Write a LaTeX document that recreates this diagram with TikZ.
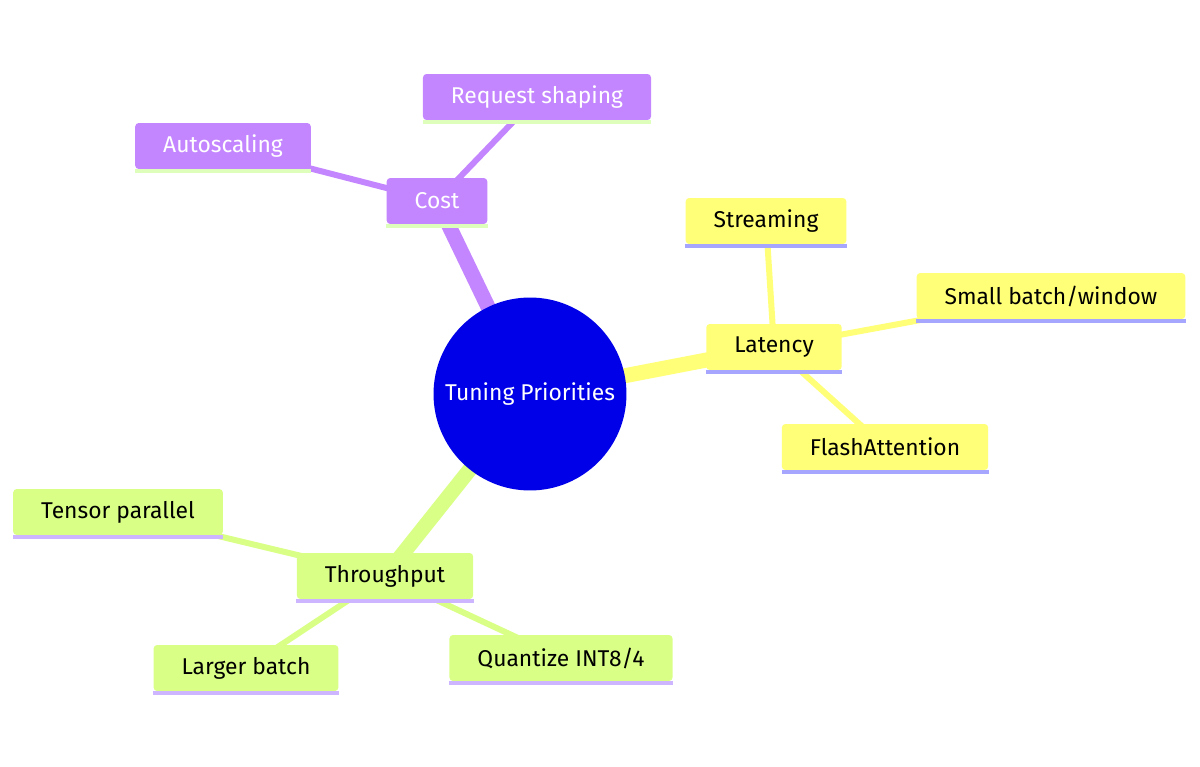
\documentclass[tikz,border=0pt]{standalone}
\usepackage{fontspec}
\setmainfont{Fira Sans}
\usetikzlibrary{backgrounds}
\definecolor{rootblue}{HTML}{0000E8}
\definecolor{costfill}{HTML}{C486FF}
\definecolor{latfill}{HTML}{FFFF78}
\definecolor{thrfill}{HTML}{D9FF86}
\definecolor{costbar}{HTML}{DDFFBB}
\definecolor{latbar}{HTML}{A6A6FF}
\definecolor{thrbar}{HTML}{CDB6FF}

\begin{document}
\begin{tikzpicture}[x=0.02cm,y=-0.02cm,font=\fontsize{13}{15}\selectfont]
            \tikzstyle{root node}=[circle,fill=rootblue,text=white,minimum size=3.86cm,inner sep=0]
            \tikzstyle{box}=[rounded corners=2pt,inner xsep=0.56cm,inner ysep=0,minimum height=0.92cm]
            \tikzstyle{cost node}=[box,fill=costfill,text=white]
            \tikzstyle{lat node}=[box,fill=latfill]
            \tikzstyle{thr node}=[box,fill=thrfill]
            \tikzstyle{trunk}=[line width=0.3cm]
            \tikzstyle{twig}=[line width=0.12cm]
            \useasboundingbox (0,0) rectangle (1200,767);
            \node[root node](tp) at (530,394) {Tuning Priorities};
            % cost branch
            \node[cost node](cost) at (437,201) {Cost};
            \node[cost node](auto) at (223,146) {Autoscaling};
            \node[cost node](shape) at (537,97) {Request shaping};
            % latency branch
            \node[lat node](lat) at (774,347) {Latency};
            \node[lat node](stream) at (766,221) {Streaming};
            \node[lat node](small) at (1051,296) {Small batch/window};
            \node[lat node](flash) at (885,447) {FlashAttention};
            % throughput branch
            \node[thr node](thr) at (385,576) {Throughput};
            \node[thr node](tensor) at (118,512) {Tensor parallel};
            \node[thr node](large) at (246,668) {Larger batch};
            \node[thr node](quant) at (561,658) {Quantize INT8/4};
            \begin{pgfonlayer}{background}
              \draw[trunk,costfill] (tp.center) -- (cost.center);
              \draw[trunk,latfill] (tp.center) -- (lat.center);
              \draw[trunk,thrfill] (tp.center) -- (thr.center);
              \foreach \a/\b in {auto/cost,shape/cost}
                \draw[twig,costfill] (\a.center) -- (\b.center);
              \foreach \a/\b in {stream/lat,small/lat,flash/lat}
                \draw[twig,latfill] (\a.center) -- (\b.center);
              \foreach \a/\b in {tensor/thr,large/thr,quant/thr}
                \draw[twig,thrfill] (\a.center) -- (\b.center);
            \end{pgfonlayer}
            % bars under the boxes
            \foreach \n/\c in {cost/costbar,auto/costbar,shape/costbar,lat/latbar,stream/latbar,small/latbar,flash/latbar,thr/thrbar,tensor/thrbar,large/thrbar,quant/thrbar}
              \fill[\c] (\n.south west) rectangle ([yshift=-0.08cm]\n.south east);
          \end{tikzpicture}
\end{document}
